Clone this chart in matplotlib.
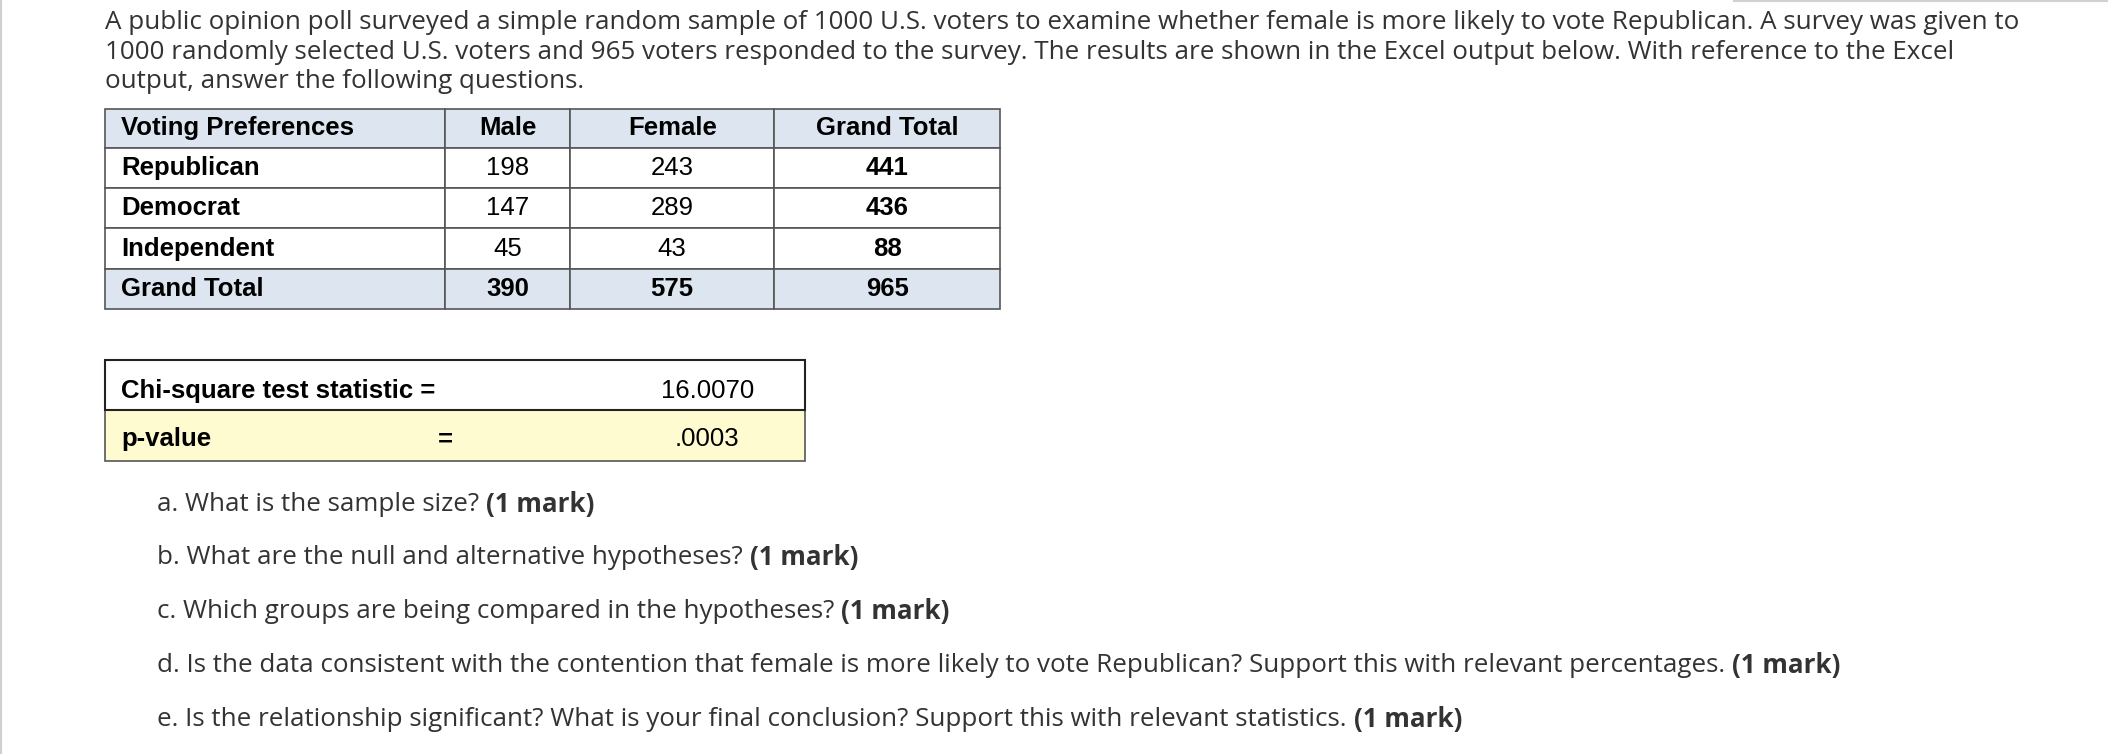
import matplotlib.pyplot as plt
from matplotlib.patches import Rectangle

# --- data --- #
intro_lines = [
    "A public opinion poll surveyed a simple random sample of 1000 U.S. voters to examine whether female is more likely to vote Republican. A survey was given to",
    "1000 randomly selected U.S. voters and 965 voters responded to the survey. The results are shown in the Excel output below. With reference to the Excel",
    "output, answer the following questions.",
]
col_headers = ["Voting Preferences", "Male", "Female", "Grand Total"]
row_labels = ["Republican", "Democrat", "Independent", "Grand Total"]
male = [198, 147, 45, 390]
female = [243, 289, 43, 575]
grand_total = [441, 436, 88, 965]
chi_square = "16.0070"
p_value = ".0003"
questions = [
    "a. What is the sample size? ",
    "b. What are the null and alternative hypotheses? ",
    "c. Which groups are being compared in the hypotheses? ",
    "d. Is the data consistent with the contention that female is more likely to vote Republican? Support this with relevant percentages. ",
    "e. Is the relationship significant? What is your final conclusion? Support this with relevant statistics. ",
]
mark_text = "(1 mark)"

W, H = 1568, 561  # reference coordinate system


def fx(x):
    return x / W


def fy(y):
    return 1 - y / H


fig = plt.figure(figsize=(21.08, 7.54), dpi=100)
fig.patch.set_facecolor("white")
body_font = "Open Sans"
table_font = "Liberation Sans"
body_size = 18.75
table_size = 18.5

# faint frame lines
fig.add_artist(plt.Line2D([fx(1), fx(1)], [0, 1], color="#d0d0d0", lw=1.5))
fig.add_artist(plt.Line2D([fx(1290), 1], [fy(1), fy(1)], color="#d0d0d0", lw=1.5))

for i, line in enumerate(intro_lines):
    fig.text(fx(78), fy(17 + 22 * i), line, fontsize=body_size, family=body_font,
             color="#333333", va="center")

# --- main table --- #
xs = [78, 331, 424, 576, 744]
ys = [81, 110, 140, 170, 200, 230]
blue = "#dde6f0"
for r in range(5):
    fill = blue if r in (0, 4) else "white"
    for c in range(4):
        fig.add_artist(Rectangle((fx(xs[c]), fy(ys[r + 1])), fx(xs[c + 1]) - fx(xs[c]),
                                 fy(ys[r]) - fy(ys[r + 1]), transform=fig.transFigure,
                                 facecolor=fill, edgecolor="#555555", lw=1.2))

for c, h in enumerate(col_headers):
    yc = fy((ys[0] + ys[1]) / 2)
    if c == 0:
        fig.text(fx(90), yc, h, fontsize=table_size, weight="bold", family=table_font, va="center")
    else:
        fig.text(fx((xs[c] + xs[c + 1]) / 2), yc, h, fontsize=table_size, weight="bold",
                 family=table_font, va="center", ha="center")

for r, lab in enumerate(row_labels):
    yc = fy((ys[r + 1] + ys[r + 2]) / 2)
    last = r == len(row_labels) - 1
    fig.text(fx(90), yc, lab, fontsize=table_size, weight="bold", family=table_font, va="center")
    vals = [male[r], female[r], grand_total[r]]
    for c, v in enumerate(vals):
        bold = last or c == 2
        fig.text(fx((xs[c + 1] + xs[c + 2]) / 2), yc, str(v), fontsize=table_size,
                 weight="bold" if bold else "normal", family=table_font,
                 va="center", ha="center")

# --- chi-square box --- #
bx0, bx1 = 78, 599
by = [268, 305, 343]
fig.add_artist(Rectangle((fx(bx0), fy(by[2])), fx(bx1) - fx(bx0), fy(by[1]) - fy(by[2]),
                         transform=fig.transFigure, facecolor="#fffbd0", edgecolor="#555555", lw=1.2))
fig.add_artist(Rectangle((fx(bx0), fy(by[1])), fx(bx1) - fx(bx0), fy(by[0]) - fy(by[1]),
                         transform=fig.transFigure, facecolor="white", edgecolor="#222222", lw=1.5))
fig.text(fx(90), fy(291), "Chi-square test statistic =", fontsize=table_size, weight="bold",
         family=table_font, va="center")
fig.text(fx(526), fy(291), chi_square, fontsize=table_size, family=table_font, va="center", ha="center")
fig.text(fx(90), fy(327), "p-value", fontsize=table_size, weight="bold", family=table_font, va="center")
fig.text(fx(331), fy(327), "=", fontsize=table_size, weight="bold", family=table_font, va="center", ha="center")
fig.text(fx(526), fy(327), p_value, fontsize=table_size, family=table_font, va="center", ha="center")

# --- questions --- #
renderer = fig.canvas.get_renderer()
for i, q in enumerate(questions):
    y = fy(375 + 40 * i)
    t = fig.text(fx(117), y, q, fontsize=body_size, family=body_font, color="#333333", va="center")
    bb = t.get_window_extent(renderer=renderer)
    x_end = bb.x1 / fig.bbox.width
    fig.text(x_end, y, mark_text, fontsize=body_size, family=body_font, weight="bold",
             color="#333333", va="center")

fig.savefig("out.png", dpi=100)
